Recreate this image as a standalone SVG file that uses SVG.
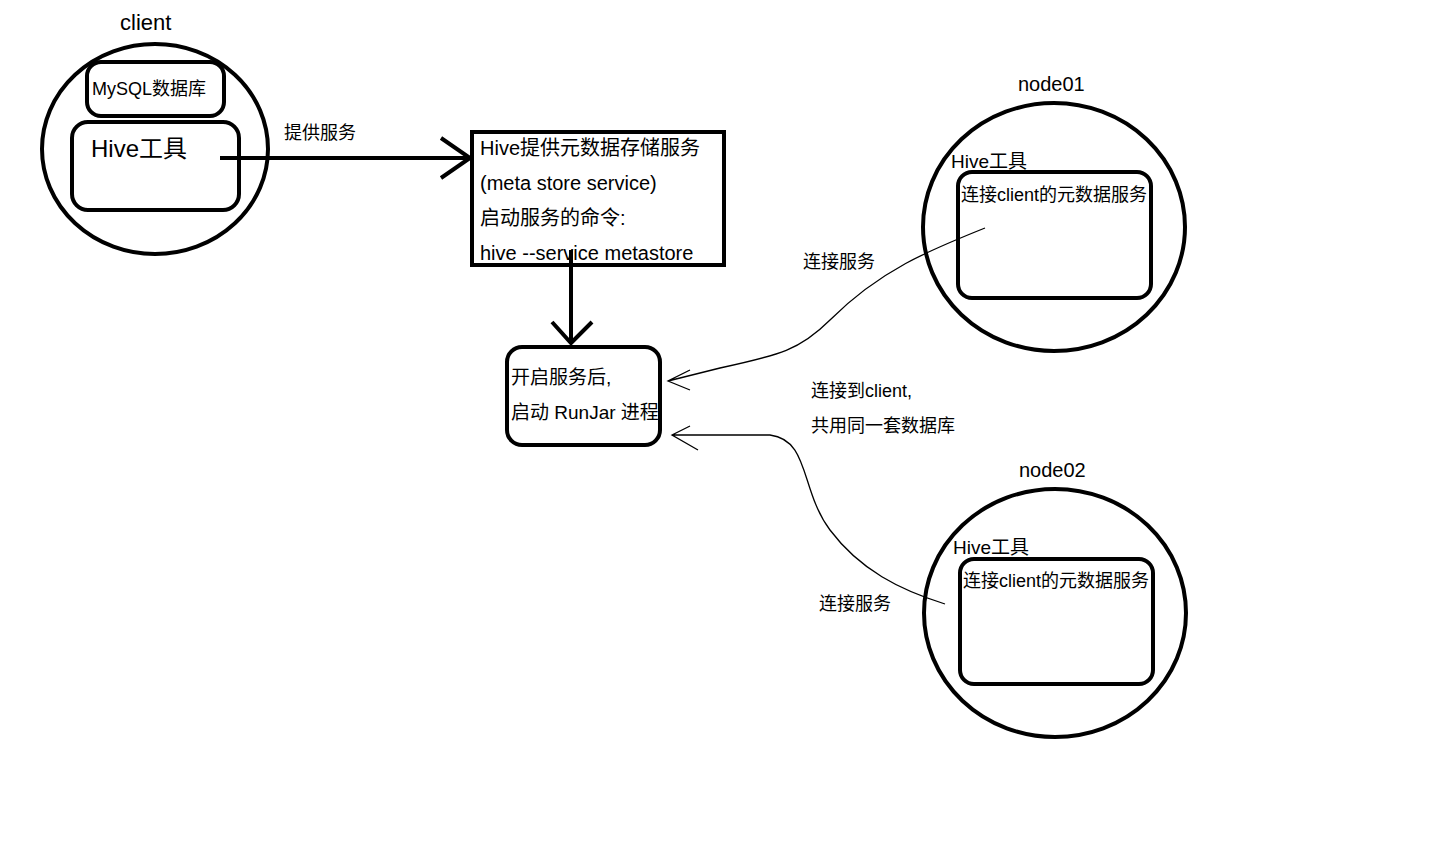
<svg xmlns="http://www.w3.org/2000/svg" width="1432" height="856" viewBox="0 0 1432 856">
<style>
.t{font-family:"Liberation Sans","Noto Sans CJK SC",sans-serif;fill:#000}
.s{fill:none;stroke:#000;stroke-width:4}
.th{fill:none;stroke:#000;stroke-width:1.3}
</style>
<rect width="1432" height="856" fill="#fff"/>
<g id="client">
<text class="t" x="120" y="30" font-size="22">client</text>
<ellipse class="s" cx="155" cy="149" rx="113" ry="105"/>
<rect class="s" x="87" y="62" width="137" height="54" rx="14"/>
<text class="t" x="92" y="95" font-size="18">MySQL数据库</text>
<rect class="s" x="72" y="122" width="167" height="88" rx="16"/>
<text class="t" x="91" y="157" font-size="24">Hive工具</text>
</g>
<g id="metastore">
<rect class="s" x="472" y="132" width="252" height="133"/>
<text class="t" x="480" y="155" font-size="20">Hive提供元数据存储服务</text>
<text class="t" x="480" y="190" font-size="20">(meta store service)</text>
<text class="t" x="480" y="225" font-size="20">启动服务的命令:</text>
<text class="t" x="480" y="260" font-size="20">hive --service metastore</text>
</g>
<g id="runjar">
<rect class="s" x="507" y="347" width="153" height="98" rx="15"/>
<text class="t" x="511" y="384" font-size="19">开启服务后,</text>
<text class="t" x="511" y="419" font-size="19">启动 RunJar 进程</text>
</g>
<g id="node01">
<text class="t" x="1018" y="91" font-size="20">node01</text>
<ellipse class="s" cx="1054" cy="227" rx="131" ry="124"/>
<rect class="s" x="958" y="172" width="193" height="126" rx="14"/>
<text class="t" x="951" y="168" font-size="19">Hive工具</text>
<text class="t" x="961" y="201" font-size="18">连接client的元数据服务</text>
</g>
<g id="node02">
<text class="t" x="1019" y="477" font-size="20">node02</text>
<ellipse class="s" cx="1055" cy="613" rx="131" ry="124"/>
<rect class="s" x="960" y="559" width="193" height="125" rx="14"/>
<text class="t" x="953" y="554" font-size="19">Hive工具</text>
<text class="t" x="963" y="587" font-size="18">连接client的元数据服务</text>
</g>
<g id="connectors">
<path class="s" d="M220 158H470M441 138L470 158L441 178"/>
<path class="s" d="M571 250V343M552 322L571 343L592 322"/>
<path class="th" d="M985 228C930 250 880 270 830 320C800 350 780 355 720 368L668 381M690 370L668 381L690 390"/>
<path class="th" d="M945 604C900 590 860 570 830 530C800 490 810 440 770 435H672M690 426L672 435L698 450"/>
<text class="t" x="284" y="139" font-size="18">提供服务</text>
<text class="t" x="803" y="268" font-size="18">连接服务</text>
<text class="t" x="811" y="397" font-size="18">连接到client,</text>
<text class="t" x="811" y="432" font-size="18">共用同一套数据库</text>
<text class="t" x="819" y="610" font-size="18">连接服务</text>
</g>
</svg>
